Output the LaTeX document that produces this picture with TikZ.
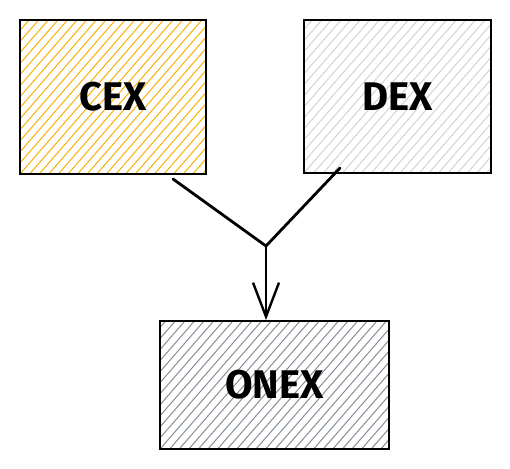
\documentclass[tikz,border=0pt]{standalone}
\usepackage{fontspec}
\setmainfont{Fira Sans}
\usetikzlibrary{arrows.meta}
\definecolor{hatchorange}{HTML}{FAB005}
\definecolor{hatchlight}{HTML}{CED4DA}
\definecolor{hatchgray}{HTML}{868E96}
\tikzset{
  hatch/.style={path picture={
    \foreach \k in {-40,...,40}{
      \draw[#1, line width=1pt] ([xshift=\k*9.6pt]path picture bounding box.south west) -- ++(49:400pt);
    }}},
  box/.style={draw=black, line width=2pt, rectangle, inner sep=0pt,
    font=\fontsize{40}{48}\selectfont\bfseries},
  conn/.style={line width=2.8pt, black, line cap=round},
}
\begin{document}
\begin{tikzpicture}[x=1pt,y=-1pt]
\useasboundingbox (0,0) rectangle (510,468);
\node[box, hatch=hatchorange, minimum width=186pt, minimum height=154pt] (cex) at (113,97) {CEX};
\node[box, hatch=hatchlight, minimum width=187pt, minimum height=153pt] (dex) at (397.5,96.5) {DEX};
\node[box, hatch=hatchgray, minimum width=229pt, minimum height=128pt] (onex) at (274.5,385) {ONEX};
\coordinate (cexout) at (173,179);
\coordinate (dexout) at (340,168);
\coordinate (join) at (266,246);
\draw[conn] (cexout) -- (join);
\draw[conn] (dexout) -- (join);
\draw[conn, -{Straight Barb[length=34pt, width=26pt, line width=2.4pt]}] (join) -- (join |- onex.north);
\end{tikzpicture}
\end{document}
